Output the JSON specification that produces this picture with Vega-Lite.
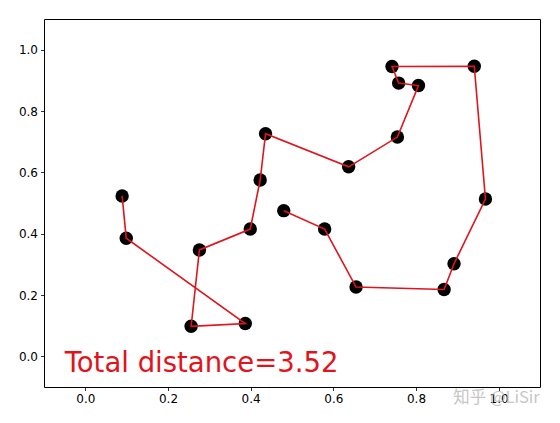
{
  "$schema": "https://vega.github.io/schema/vega-lite/v6.json",
  "width": 496,
  "height": 368,
  "autosize": "none",
  "padding": {"left": 44, "top": 19, "right": 20, "bottom": 36},
  "background": "white",
  "config": {
    "view": {"stroke": "black", "strokeWidth": 1},
    "axis": {
      "grid": false,
      "domain": false,
      "tickColor": "black",
      "tickSize": 3.5,
      "tickWidth": 0.8,
      "labelFont": "DejaVu Sans",
      "labelFontSize": 12,
      "labelColor": "black",
      "labelPadding": 3,
      "title": null
    }
  },
  "datasets": {
    "pts": [
      {"order": 1, "x": 0.089, "y": 0.523},
      {"order": 2, "x": 0.099, "y": 0.385},
      {"order": 3, "x": 0.387, "y": 0.107},
      {"order": 4, "x": 0.256, "y": 0.098},
      {"order": 5, "x": 0.276, "y": 0.347},
      {"order": 6, "x": 0.399, "y": 0.415},
      {"order": 7, "x": 0.423, "y": 0.575},
      {"order": 8, "x": 0.436, "y": 0.726},
      {"order": 9, "x": 0.637, "y": 0.618},
      {"order": 10, "x": 0.755, "y": 0.715},
      {"order": 11, "x": 0.806, "y": 0.883},
      {"order": 12, "x": 0.758, "y": 0.891},
      {"order": 13, "x": 0.742, "y": 0.945},
      {"order": 14, "x": 0.941, "y": 0.946},
      {"order": 15, "x": 0.968, "y": 0.513},
      {"order": 16, "x": 0.892, "y": 0.302},
      {"order": 17, "x": 0.868, "y": 0.218},
      {"order": 18, "x": 0.655, "y": 0.226},
      {"order": 19, "x": 0.579, "y": 0.415},
      {"order": 20, "x": 0.480, "y": 0.475}
    ],
    "labels": [
      {"x": -0.05, "y": -0.05, "label": "Total distance=3.52"}
    ],
    "wm": [
      {"x": 0.89, "y": -0.137, "label": "知乎 @LiSir"}
    ]
  },
  "layer": [
    {
      "data": {"name": "pts"},
      "mark": {"type": "point", "filled": true, "shape": "circle", "size": 180, "color": "black", "opacity": 1},
      "encoding": {
        "x": {"field": "x", "type": "quantitative", "scale": {"domain": [-0.1, 1.1], "nice": false, "zero": false},
              "axis": {"values": [0, 0.2, 0.4, 0.6, 0.8, 1.0], "format": ".1f"}},
        "y": {"field": "y", "type": "quantitative", "scale": {"domain": [-0.1, 1.1], "nice": false, "zero": false},
              "axis": {"values": [0, 0.2, 0.4, 0.6, 0.8, 1.0], "format": ".1f"}}
      }
    },
    {
      "data": {"name": "pts"},
      "mark": {"type": "line", "color": "#e0141c", "strokeWidth": 1.6},
      "encoding": {
        "x": {"field": "x", "type": "quantitative"},
        "y": {"field": "y", "type": "quantitative"},
        "order": {"field": "order", "type": "quantitative"}
      }
    },
    {
      "data": {"name": "labels"},
      "mark": {"type": "text", "align": "left", "baseline": "alphabetic", "font": "DejaVu Sans", "fontSize": 27.5, "color": "#e0141c"},
      "encoding": {
        "x": {"field": "x", "type": "quantitative"},
        "y": {"field": "y", "type": "quantitative"},
        "text": {"field": "label"}
      }
    },
    {
      "data": {"name": "wm"},
      "mark": {"type": "text", "align": "left", "baseline": "middle", "font": "Noto Sans CJK SC", "fontSize": 16.5, "color": "#bdbdbd", "opacity": 0.85, "clip": false},
      "encoding": {
        "x": {"field": "x", "type": "quantitative"},
        "y": {"field": "y", "type": "quantitative"},
        "text": {"field": "label"}
      }
    }
  ]
}
